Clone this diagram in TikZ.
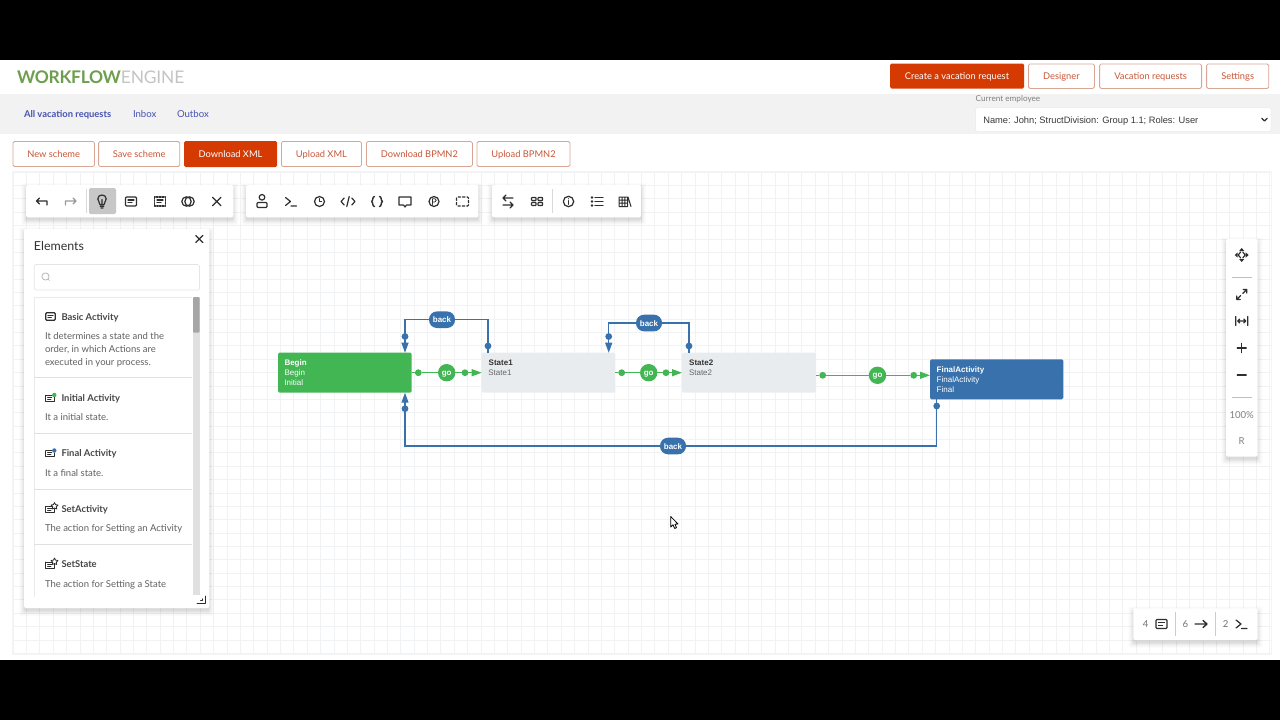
\documentclass[tikz,border=0pt]{standalone}
\usepackage{fontspec}
\setmainfont{Lato}
\newfontfamily\arialf{Liberation Sans}
\usetikzlibrary{arrows.meta,calc}
\definecolor{wfred}{HTML}{D43A02}
\definecolor{wfredtext}{HTML}{C8573A}
\definecolor{wfborder}{HTML}{D9A594}
\definecolor{wfgreen}{HTML}{41B653}
\definecolor{wfblue}{HTML}{3871AB}
\definecolor{wfgrey}{HTML}{E9ECEF}
\definecolor{wfband}{HTML}{F2F2F2}
\definecolor{wfnav}{HTML}{4653B0}
\definecolor{wfgrid}{HTML}{F0F2F4}
\definecolor{wficon}{HTML}{2E2E2E}
\newcommand{\fs}[1]{\fontsize{#1}{#1}\selectfont}
\newcommand{\vstrut}{\rule{0pt}{.75em}}
\newcommand{\xstrut}{\rule{0pt}{.6em}}
% rectangle node by its corners: style, name, x1, y1, x2, y2, text
\newcommand{\rectnode}[7][]{\node[rct,#1,minimum width={(#5-#3)*1pt},minimum height={(#6-#4)*1pt}] (#2) at ({(#3+#5)/2},{(#4+#6)/2}) {#7};}
\newcommand{\softshadow}[4]{%
  \foreach \g/\o in {5/0.012,4/0.016,3/0.02,2/0.026,1/0.03,0/0.035}{%
    \fill[black,opacity=\o,rounded corners=2pt] ({#1-\g},{#2-\g+3}) rectangle ({#3+\g},{#4+\g+3});}}
\tikzset{
  rct/.style={inner sep=0pt,outer sep=0pt,rounded corners=1.5pt,text depth=0pt,execute at begin node=\vstrut},
  lt/.style={inner sep=0pt,outer sep=0pt,anchor=west,text depth=0pt,execute at begin node=\vstrut},
  ct/.style={inner sep=0pt,outer sep=0pt,anchor=center,text depth=0pt,execute at begin node=\vstrut},
  redbtn/.style={fill=wfred,text=white,font=\fs{9.3}},
  outbtn/.style={draw=wfborder,line width=.8pt,fill=white,text=wfredtext,font=\fs{9.3}},
  panelbox/.style={fill=white,rounded corners=2pt},
  go/.style={circle,fill=wfgreen,text=white,minimum size=17.4pt,inner sep=0pt,outer sep=0pt,font=\arialf\bfseries\fs{8},text depth=0pt,execute at begin node=\xstrut},
  bk/.style={rounded corners=8pt,fill=wfblue,text=white,minimum width=26pt,minimum height=16.6pt,inner sep=0pt,outer sep=0pt,font=\arialf\bfseries\fs{8},text depth=0pt,execute at begin node=\vstrut},
  gdot/.style={circle,fill=wfgreen,minimum size=6.8pt,inner sep=0pt,outer sep=0pt},
  bdot/.style={circle,fill=wfblue,minimum size=6.8pt,inner sep=0pt,outer sep=0pt},
  gline/.style={draw=wfgreen,line width=1.1pt},
  bline/.style={draw=wfblue,line width=1.1pt},
  gtip/.style={gline,-{Triangle[length=10pt,width=7pt]}},
  btip/.style={bline,-{Triangle[length=10pt,width=7pt]}},
  dg/.style={font=\arialf\fs{8}},
  ic/.style={draw=wficon,line width=1.2pt,line cap=round,line join=round},
  ttl/.style={lt,font=\bfseries\fs{9.4},text=black!72},
  dsc/.style={lt,font=\fs{9.5},text=black!62},
  icard/.pic={\draw[ic,rounded corners=1pt] (-5.5,-4.5) rectangle (5.5,4.5);\draw[ic] (-3,-1.5)--(3,-1.5) (-3,1.2)--(1,1.2);},
  icardd/.pic={\draw[ic,dash pattern=on 1.6pt off 1.2pt] (-5.5,-4.5) rectangle (5.5,4.5);\draw[ic] (-3,-1.5)--(3,-1.5) (-3,1.2)--(1,1.2);},
  iundo/.pic={\draw[ic] (5,3.5)--(5,-.5)--(-5.5,-.5) (-2.5,-3.5)--(-5.5,-.5)--(-2.5,2.5);},
  iredo/.pic={\draw[ic,draw=black!40] (-5,3.5)--(-5,-.5)--(5.5,-.5) (2.5,-3.5)--(5.5,-.5)--(2.5,2.5);},
  ibulb/.pic={\draw[ic] (-2,3.2)..controls(-2,.5)and(-4.2,0)..(-4.2,-2.6)..controls(-4.2,-7.8)and(4.2,-7.8)..(4.2,-2.6)..controls(4.2,0)and(2,.5)..(2,3.2)--cycle (-1.8,5)--(1.8,5) (-1,6.6)--(1,6.6) (0,3)--(0,-2);},
  ilink/.pic={\draw[ic] (1.5,0) circle (4.7);\draw[ic] (-1.5,0) circle (4.7);},
  ix/.pic={\draw[ic] (-4.2,-4.2)--(4.2,4.2) (-4.2,4.2)--(4.2,-4.2);},
  iuser/.pic={\draw[ic] (0,-4.2) circle (2.8);\draw[ic,rounded corners=1pt] (-5,1)rectangle(5,6);},
  icmd/.pic={\draw[ic] (-5.5,-4)--(-.5,0)--(-5.5,4) (0,4.5)--(5.5,4.5);},
  iclock/.pic={\draw[ic] (0,0) circle (5);\draw[ic] (0,-2.8)--(0,.3)--(2,.3);},
  icode/.pic={\draw[ic] (-3.8,-3.5)--(-7,0)--(-3.8,3.5) (3.8,-3.5)--(7,0)--(3.8,3.5) (1.2,-5)--(-1.2,5);},
  ibrace/.pic={\draw[ic,line width=1.4pt] (-2.5,-5)..controls(-5,-5)and(-3.5,-.5)..(-5.5,0)..controls(-3.5,.5)and(-5,5)..(-2.5,5) (2.5,-5)..controls(5,-5)and(3.5,-.5)..(5.5,0)..controls(3.5,.5)and(5,5)..(2.5,5);},
  icomm/.pic={\draw[ic] (-6,-4.5)--(6,-4.5)--(6,3.5)--(1.5,3.5)--(0,5.5)--(-1.5,3.5)--(-6,3.5)--cycle;},
  iparam/.pic={\draw[ic] (0,0) circle (5);\draw[ic,line width=.8pt] (-1.5,3)--(-1.5,-2.8)--(1,-2.8)..controls(2.6,-2.8)and(2.6,.4)..(1,.4)--(-1.5,.4);},
  idash/.pic={\draw[ic,rounded corners=1pt,dash pattern=on 2.4pt off 2pt] (-6,-4.5) rectangle (6,4.5);},
  iswap/.pic={\draw[ic] (5,-3.5)--(-5,-3.5) (-2,-6.5)--(-5,-3.5)--(-2,-.5) (-5,3.5)--(5,3.5) (2,.5)--(5,3.5)--(2,6.5);},
  iblocks/.pic={\draw[ic,rounded corners=.6pt] (-5.5,-4)rectangle(-1,-1) (1,-4)rectangle(5.5,-1) (-5.5,1)rectangle(-1,4) (1,1)rectangle(5.5,4);},
  iinfo/.pic={\draw[ic] (0,0) circle (5.2);\draw[ic,line width=1.2pt] (0,-.8)--(0,2.8) (0,-2.9)--(0,-2.7);},
  ilist/.pic={\draw[ic] (-2,-4)--(6,-4) (-2,0)--(6,0) (-2,4)--(6,4);\fill[wficon] (-5,-4) circle (1.4) (-5,0) circle (1.4) (-5,4) circle (1.4);},
  ilib/.pic={\draw[ic,line width=1pt] (-6,-4.5)rectangle(2.5,5) (-6,-1.5)--(2.5,-1.5) (-6,1.5)--(2.5,1.5) (-3,-4.5)--(-3,5) (-.2,-4.5)--(-.2,5) (3,-4.5)--(6,5);},
  imove/.pic={\draw[ic] (-3.5,0)--(-1,-3) (1,-3)--(3.5,0)--(1,3) (-1,3)--(-3.5,0);
     \fill[wficon] (0,-7)--(2.6,-4)--(-2.6,-4)--cycle (0,7)--(2.6,4)--(-2.6,4)--cycle (-7,0)--(-4,2.6)--(-4,-2.6)--cycle (7,0)--(4,2.6)--(4,-2.6)--cycle;},
  iexpand/.pic={\draw[ic] (1,-1)--(5,-5) (1.5,-5)--(5,-5)--(5,-1.5) (-1,1)--(-5,5) (-1.5,5)--(-5,5)--(-5,1.5);},
  ifit/.pic={\draw[ic] (-6,-4.5)--(-6,4.5) (6,-4.5)--(6,4.5) (-4,0)--(4,0) (-2,-2)--(-4,0)--(-2,2) (2,-2)--(4,0)--(2,2);},
  iplus/.pic={\draw[ic] (-4.5,0)--(4.5,0) (0,-4.5)--(0,4.5);},
  iminus/.pic={\draw[ic] (-4.5,0)--(4.5,0);},
  iarrow/.pic={\draw[ic,line width=1.4pt] (-6,0)--(6,0) (2,-3.5)--(6,0)--(2,3.5);},
  iflag/.pic={\draw[ic,line width=.9pt] (-5.5,-3)--(2,-3) (5,-.5)--(5,4)--(-5.5,4)--(-5.5,-3) (-3.5,-.5)--(1.5,-.5) (-3.5,1.7)--(.5,1.7);},
}
\begin{document}
\begin{tikzpicture}[x=1pt,y=-1pt]
\useasboundingbox (0,0) rectangle (1280,720);
\fill[white] (0,0) rectangle (1280,720);
\fill[black] (0,0) rectangle (1280,60);
\fill[black] (0,660) rectangle (1280,720);
\fill[wfband] (0,94) rectangle (1280,134);
% canvas
\fill[black!4] (12,171) rectangle (1272,655);
\fill[white] (13,172) rectangle (1271,653);
\begin{scope}
\clip (13,172) rectangle (1271,653);
\foreach \k in {0,...,94} \draw[wfgrid,line width=.7pt] ({13+13.37*\k},172) -- ({13+13.37*\k},653);
\foreach \k in {0,...,36} \draw[wfgrid,line width=.7pt] (13,{172+13.37*\k}) -- (1271,{172+13.37*\k});
\end{scope}
% logo and header
\node[lt,font=\fs{17.4}] (logo) at (17,77.3) {\textcolor[HTML]{6E9F4E}{\addfontfeature{LetterSpace=-1.5}\bfseries WORKFLOW}\textcolor[HTML]{C4C4C4}{\addfontfeature{LetterSpace=-1}ENGINE}};
\rectnode[redbtn]{create}{890}{63.5}{1024}{88.5}{Create a vacation request}
\rectnode[outbtn]{designer}{1028.4}{64}{1094.4}{88.4}{Designer}
\rectnode[outbtn]{vacreq}{1099.6}{64}{1201.6}{88.4}{Vacation requests}
\rectnode[outbtn]{settings}{1206.6}{64}{1268.8}{88.4}{Settings}
\node[lt,font=\bfseries\fs{9.4},text=wfnav] (allreq) at (24,113.5) {All vacation requests};
\node[lt,font=\fs{9.6},text=wfnav] (inbox) at (133,113.5) {Inbox};
\node[lt,font=\fs{9.6},text=wfnav] (outbox) at (177,113.5) {Outbox};
\node[lt,font=\fs{8.2},text=black!50] (curemp) at (975.7,98.8) {Current employee};
\rectnode[fill=white,draw=black!8,line width=.5pt]{select}{975.7}{107.7}{1271}{131.7}{}
\node[lt,font=\arialf\fs{9.3},text=black!78] (seltext) at (983.3,119.7) {Name: John; StructDivision: Group 1.1; Roles: User};
\draw[ic,line width=1.2pt] (1261.7,118.3)--(1264.5,121)--(1267.3,118.3);
% action buttons
\rectnode[outbtn]{newsch}{13}{141.5}{94.4}{166.5}{New scheme}
\rectnode[outbtn]{savesch}{98.6}{141.5}{179.8}{166.5}{Save scheme}
\rectnode[redbtn]{dlxml}{184}{141}{277}{167}{Download XML}
\rectnode[outbtn]{upxml}{281.4}{141.5}{361.4}{166.5}{Upload XML}
\rectnode[outbtn]{dlbpmn}{366.4}{141.5}{472.4}{166.5}{Download BPMN2}
\rectnode[outbtn]{upbpmn}{477}{141.5}{570}{166.5}{Upload BPMN2}
% toolbars
\softshadow{26}{185}{233.3}{217.3}
\softshadow{246}{185}{478.3}{217.3}
\softshadow{492}{185}{641}{217.3}
\fill[panelbox] (26,185) rectangle (233.3,217.3);
\fill[panelbox] (246,185) rectangle (478.3,217.3);
\fill[panelbox] (492,185) rectangle (641,217.3);
\fill[black!22,rounded corners=1.5pt] (89,188) rectangle (116,214);
\draw[black!15,line width=.7pt] (86.5,189)--(86.5,213);
\draw[black!15,line width=.7pt] (552.5,189)--(552.5,213);
\pic at (42,201.5) {iundo};
\pic at (70.5,201.5) {iredo};
\pic at (102,201.5) {ibulb};
\pic at (131,201.5) {icard};
\pic at (160,201.5) {icardd};
\pic at (188,201.5) {ilink};
\pic at (216.7,201.5) {ix};
\pic at (262,201.5) {iuser};
\pic at (291,201.5) {icmd};
\pic at (319.5,201.5) {iclock};
\pic at (348,201.5) {icode};
\pic at (377,201.5) {ibrace};
\pic at (405,201.5) {icomm};
\pic at (434,201.5) {iparam};
\pic at (462.5,201.5) {idash};
\pic at (508,201.5) {iswap};
\pic at (537,201.5) {iblocks};
\pic at (568.5,201.5) {iinfo};
\pic at (597,201.5) {ilist};
\pic at (625,201.5) {ilib};
% elements panel
\softshadow{24}{229}{209.3}{608}
\fill[panelbox] (24,229) rectangle (209.3,608);
\node[lt,font=\fs{12.4},text=black!80] (elem) at (34,246.3) {Elements};
\pic[scale=.85] at (199.3,239) {ix};
\rectnode[draw=black!10,fill=white,line width=.7pt]{search}{34.3}{264.5}{199.5}{290}{}
\draw[black!30,line width=.7pt] (45.5,276.5) circle (3.6) (48,279)--(49.6,280.6);
\draw[black!8,line width=.7pt] (34,297)--(192,297) (34,297)--(34,597);
\foreach \yy in {377.7,433.3,489.3,544.3} \draw[black!12,line width=.9pt] (34,\yy)--(192,\yy);
\fill[black!12] (193,297) rectangle (199.5,595);
\fill[black!35,rounded corners=1pt] (193,297) rectangle (199.5,332.5);
\pic[scale=.85] at (50.5,316.5) {icard};
\node[ttl] (t1) at (61.5,316.5) {Basic Activity};
\node[dsc] (d1a) at (45,336) {It determines a state and the};
\node[dsc] (d1b) at (45,348.7) {order, in which Actions are};
\node[dsc] (d1c) at (45,361.5) {executed in your process.};
\pic[scale=.85] at (50.5,397.8) {iflag};
\fill[wfgreen] (54.3,395) circle (2.2);
\node[ttl] (t2) at (61.5,397.5) {Initial Activity};
\node[dsc] (d2) at (45,417) {It a initial state.};
\pic[scale=.85] at (50.5,453.3) {iflag};
\fill[wfblue] (54.3,450.5) circle (2.2);
\node[ttl] (t3) at (61.5,453) {Final Activity};
\node[dsc] (d3) at (45,472.7) {It a final state.};
\pic[scale=.85] at (50.5,509) {iflag};
\draw[ic,line width=.8pt] (54.5,502.5)--(55.6,504.6)--(58,505)--(56.3,506.7)--(56.7,509)--(54.5,508)--(52.3,509)--(52.7,506.7)--(51,505)--(53.4,504.6)--cycle;
\node[ttl] (t4) at (61.5,508.5) {SetActivity};
\node[dsc] (d4) at (45,528) {The action for Setting an Activity};
\pic[scale=.85] at (50.5,564.6) {iflag};
\draw[ic,line width=.8pt] (54.5,558)--(55.6,560.1)--(58,560.5)--(56.3,562.2)--(56.7,564.5)--(54.5,563.5)--(52.3,564.5)--(52.7,562.2)--(51,560.5)--(53.4,560.1)--cycle;
\node[ttl] (t5) at (61.5,564) {SetState};
\node[dsc] (d5) at (45,583.5) {The action for Setting a State};
\draw[ic,line width=.9pt] (197,603.5)--(205,603.5)--(205,596);
\draw[ic,line width=.9pt] (200.5,600.5)--(202.2,600.5)--(202.2,598.8);
% right bar
\softshadow{1226}{239}{1257.7}{456.7}
\fill[panelbox] (1226,239) rectangle (1257.7,456.7);
\pic at (1241.7,255) {imove};
\draw[black!25,line width=.7pt] (1232,277.5)--(1252,277.5) (1232,397.5)--(1252,397.5);
\pic at (1241.7,294.5) {iexpand};
\pic at (1241.7,321) {ifit};
\pic at (1241.7,348) {iplus};
\pic at (1241.7,375) {iminus};
\node[ct,font=\fs{9.6},text=black!50] (zoomv) at (1241.7,414.5) {100\%};
\node[ct,font=\fs{9.6},text=black!50] (reset) at (1241.7,441) {R};
% counters
\softshadow{1133.3}{608.3}{1257.7}{640}
\fill[panelbox] (1133.3,608.3) rectangle (1257.7,640);
\draw[black!20,line width=.7pt] (1175.5,612)--(1175.5,636) (1215.5,612)--(1215.5,636);
\node[ct,font=\fs{9.6},text=black!55] (c4) at (1145.7,624) {4};
\pic at (1161.5,624) {icard};
\node[ct,font=\fs{9.6},text=black!55] (c6) at (1185.3,624) {6};
\pic at (1201,624) {iarrow};
\node[ct,font=\fs{9.6},text=black!55] (c2) at (1225.7,624) {2};
\pic at (1241.5,624) {icmd};
% activities
\rectnode[fill=wfgreen]{begin}{278}{352.7}{411.7}{392.7}{}
\rectnode[fill=wfgrey]{stateone}{481.7}{352.7}{615.3}{392.7}{}
\rectnode[fill=wfgrey]{statetwo}{682}{352.7}{816}{392.7}{}
\rectnode[fill=wfblue]{final}{930}{359.3}{1063.3}{399.3}{}
\node[lt,dg,text=white] (b1) at (284.5,362.6) {\bfseries Begin};
\node[lt,dg,text=white] (b2) at (284.5,372.6) {Begin};
\node[lt,dg,text=white] (b3) at (284.5,382.6) {Initial};
\node[lt,dg,text=black!80] (s1a) at (488.7,362.6) {\bfseries State1};
\node[lt,dg,text=black!60] (s1b) at (488.4,372.6) {State1};
\node[lt,dg,text=black!80] (s2a) at (689.2,362.6) {\bfseries State2};
\node[lt,dg,text=black!60] (s2b) at (689,372.6) {State2};
\node[lt,dg,text=white] (f1) at (936.7,369.2) {\bfseries FinalActivity};
\node[lt,dg,text=white] (f2) at (936.7,379.2) {FinalActivity};
\node[lt,dg,text=white] (f3) at (936.7,389.2) {Final};
% go connectors
\node[go] (go1) at (446.7,372.7) {go};
\node[gdot] (g1a) at (418.3,372.7) {};
\node[gdot] (g1b) at (465,372.7) {};
\node[go] (go2) at (648.7,372.7) {go};
\node[gdot] (g2a) at (621.7,372.7) {};
\node[gdot] (g2b) at (666,372.7) {};
\node[go] (go3) at (877.5,375.3) {go};
\node[gdot] (g3a) at (822.7,375.3) {};
\node[gdot] (g3b) at (913.7,375.3) {};
\draw[gline] (begin.east) -- (g1a) -- (go1);
\draw[gtip] (go1) -- (g1b) -- (stateone.west);
\draw[gline] (stateone.east) -- (g2a) -- (go2);
\draw[gtip] (go2) -- (g2b) -- (statetwo.west);
\draw[gline] (g3a.center |- go3) -- (go3);
\draw[gline] (statetwo.east |- go3) -- (g3a);
\draw[gtip] (go3) -- (g3b) -- (final.west |- go3);
% back connectors
\node[bk] (bk1) at (442,319.7) {back};
\node[bk] (bk2) at (649,323) {back};
\node[bk] (bk3) at (673,446) {back};
\node[bdot] (d1s) at (488,346) {};
\node[bdot] (d1e) at (405,336.5) {};
\node[bdot] (d2s) at (689,346) {};
\node[bdot] (d2e) at (608.7,336.5) {};
\node[bdot] (d3s) at (936.7,406) {};
\node[bdot] (d3e) at (405,408.7) {};
\draw[bline] (d1s.center |- stateone.north) -- (d1s.center) |- (bk1);
\draw[btip] (bk1) -| (d1e.center) -- (d1e.center |- begin.north);
\draw[bline] (d2s.center |- statetwo.north) -- (d2s.center) |- (bk2);
\draw[btip] (bk2) -| (d2e.center) -- (d2e.center |- stateone.north);
\draw[bline] (d3s.center |- final.south) -- (d3s.center) |- (bk3);
\draw[btip] (bk3) -| (d3e.center) -- (d3e.center |- begin.south);
% mouse cursor
\draw[black,fill=white,line width=.8pt,line join=round] (670.7,516.5)--(670.7,527)--(673,524.8)--(674.7,528.5)--(676.5,527.7)--(674.9,524.2)--(678,524)--cycle;
\end{tikzpicture}
\end{document}
